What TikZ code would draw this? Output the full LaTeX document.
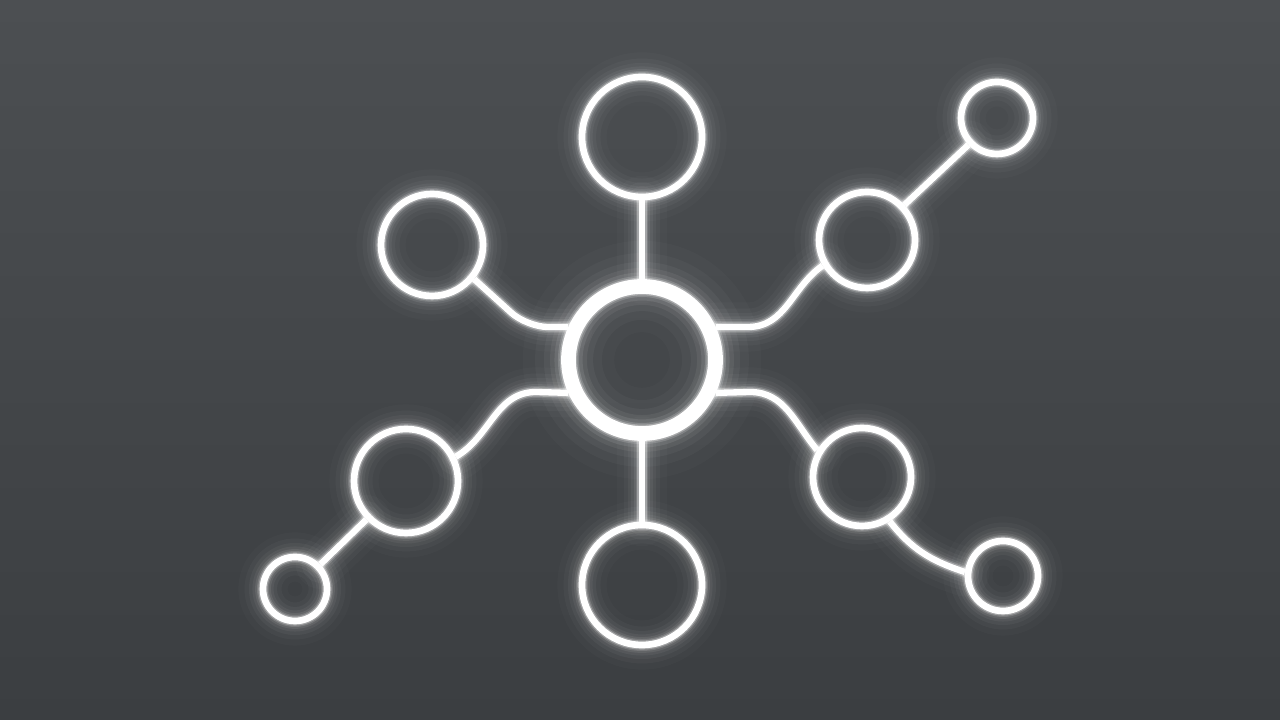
\documentclass[tikz,border=0pt]{standalone}
\usetikzlibrary{fadings}
\definecolor{bgtop}{RGB}{76,79,82}
\definecolor{bgbot}{RGB}{59,62,65}
\tikzset{
  glowthin/.style={
    preaction={draw=white,line width=14pt,opacity=.02,line cap=round},
    preaction={draw=white,line width=10.5pt,opacity=.03,line cap=round},
    preaction={draw=white,line width=8pt,opacity=.04,line cap=round},
    preaction={draw=white,line width=6pt,opacity=.05,line cap=round},
    preaction={draw=white,line width=4.5pt,opacity=.08,line cap=round},
    preaction={draw=white,line width=3.4pt,opacity=.14,line cap=round},
    preaction={draw=white,line width=2.6pt,opacity=.3,line cap=round}},
  glowthick/.style={
    preaction={draw=white,line width=26pt,opacity=.02},
    preaction={draw=white,line width=19pt,opacity=.03},
    preaction={draw=white,line width=14pt,opacity=.045},
    preaction={draw=white,line width=10.5pt,opacity=.06},
    preaction={draw=white,line width=8pt,opacity=.09},
    preaction={draw=white,line width=6pt,opacity=.16},
    preaction={draw=white,line width=5pt,opacity=.3}},
  bubble/.style={circle,draw=white,line width=1.9pt,inner sep=0pt,glowthin},
  hub/.style={circle,draw=white,line width=4.2pt,inner sep=0pt,minimum size=1.47cm,glowthick},
  link/.style={draw=white,line width=1.8pt,glowthin},
}
\begin{document}
\begin{tikzpicture}
\useasboundingbox (0,0) rectangle (12.8,7.2);
\fill[top color=bgtop,bottom color=bgbot] (0,0) rectangle (12.8,7.2);

\node[hub] (c) at (6.42,3.60) {};
\node[bubble,minimum size=1.20cm] (top) at (6.42,5.83) {};
\node[bubble,minimum size=1.20cm] (bot) at (6.42,1.35) {};
\node[bubble,minimum size=1.02cm] (ul) at (4.32,4.75) {};
\node[bubble,minimum size=0.96cm] (ur) at (8.67,4.80) {};
\node[bubble,minimum size=0.72cm] (ur2) at (9.97,6.02) {};
\node[bubble,minimum size=1.04cm] (ll) at (4.06,2.39) {};
\node[bubble,minimum size=0.64cm] (ll2) at (2.95,1.31) {};
\node[bubble,minimum size=0.98cm] (lr) at (8.62,2.43) {};
\node[bubble,minimum size=0.70cm] (lr2) at (10.03,1.44) {};

\path[link] (top) -- (c);
\path[link] (c) -- (bot);
\path[link,rounded corners=6pt] (ul.-39) -- (5.27,3.93) -- (c.156);
\path[link] (c.24) -- (7.48,3.93) to[out=0,in=215] (ur.210);
\path[link] (ur) -- (ur2);
\path[link] (c.204) -- (5.36,3.28) to[out=180,in=30] (ll.26);
\path[link] (ll) -- (ll2);
\path[link] (c.-24) -- (7.50,3.28) to[out=0,in=130] (lr.149);
\path[link] (lr.-58) to[out=-52,in=162] (lr2.174);
\end{tikzpicture}
\end{document}
